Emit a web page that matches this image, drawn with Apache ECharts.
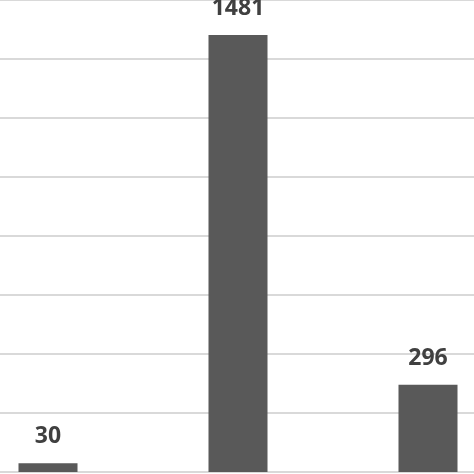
<!DOCTYPE html>
<html><head><meta charset="utf-8">
<script src="https://cdn.jsdelivr.net/npm/echarts@6/dist/echarts.min.js"></script>
<style>html,body{margin:0;padding:0;background:#fff;overflow:hidden;width:474px;height:474px}#c{width:570px;height:474px;margin-left:-47.5px}</style>
</head><body><div id="c"></div>
<script>
const categories = ['A', 'B', 'C'];
const values = [30, 1481, 296];
const chart = echarts.init(document.getElementById('c'));
chart.setOption({
  animation: false,
  grid: { left: 0, top: 0, right: 0, bottom: 2, containLabel: false },
  xAxis: { type: 'category', data: categories, axisLine: { show: false }, axisTick: { show: false }, axisLabel: { show: false } },
  yAxis: { type: 'value', min: 0, max: 1600, interval: 200, axisLabel: { show: false },
    splitLine: { lineStyle: { color: '#d9d9d9', width: 2 } } },
  series: [{ type: 'bar', data: values, barWidth: 59, itemStyle: { color: '#595959' },
    label: { show: true, position: 'top', distance: 15, fontFamily: 'Open Sans', fontWeight: 'bold', fontSize: 23, color: '#404040' } }]
});
</script></body></html>
